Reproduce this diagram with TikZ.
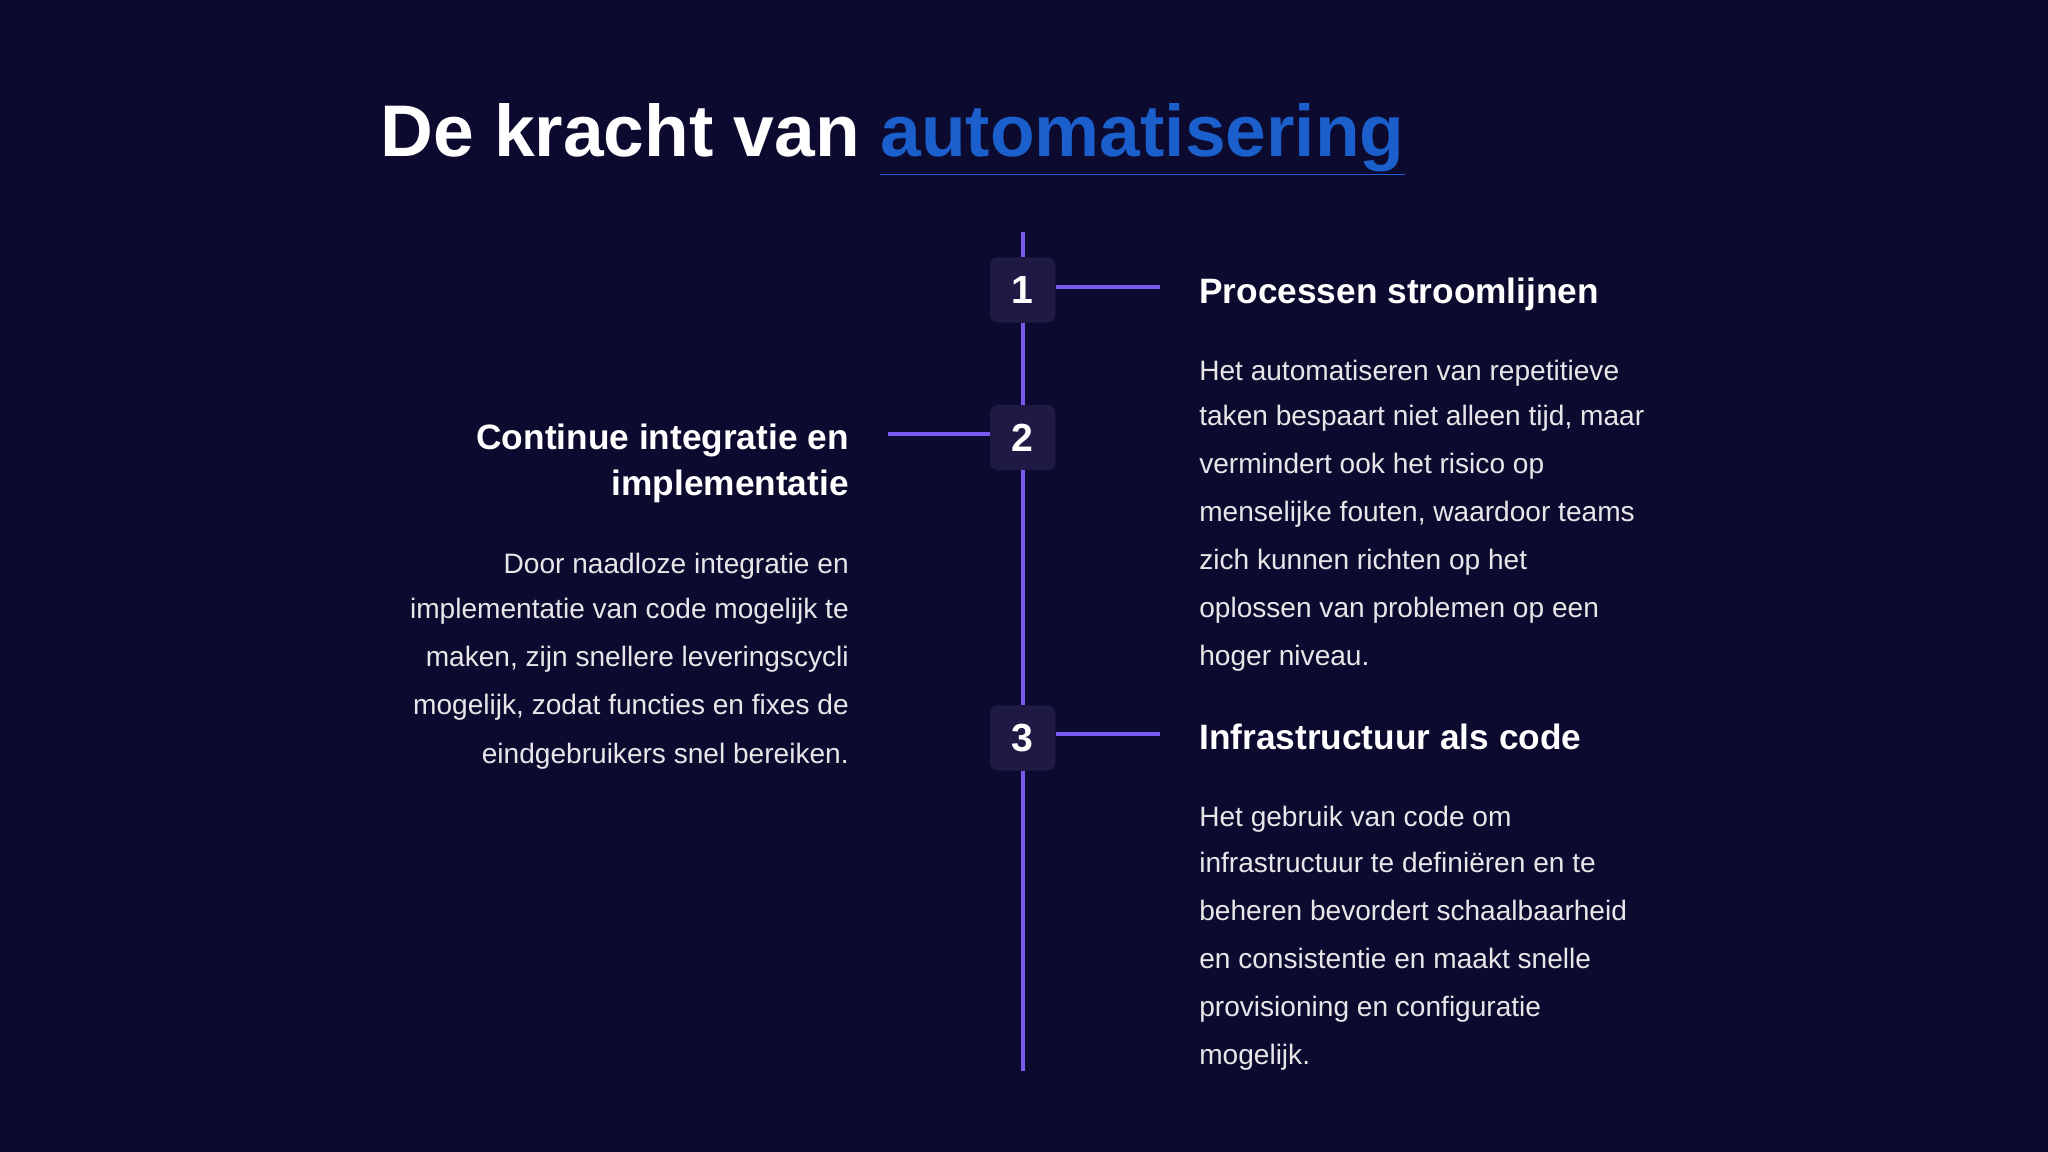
\documentclass[tikz,border=0pt]{standalone}
\usepackage{fontspec}
\setmainfont{Liberation Sans}
\definecolor{bg}{HTML}{0C0A2E}
\definecolor{boxc}{HTML}{1E1A45}
\definecolor{linec}{HTML}{7A5AF0}
\definecolor{bluec}{HTML}{1A5FCC}
\begin{document}
\begin{tikzpicture}[x=1pt,y=-1pt,
  numbox/.style={fill=boxc,rounded corners=6pt,minimum width=50pt,minimum height=50pt,inner sep=0,text=white,font=\bfseries\fontsize{30}{30}\selectfont},
  conn/.style={draw=linec,line width=3pt},
  head/.style={inner sep=0,text=white,font=\bfseries\fontsize{27}{35}\selectfont},
  body/.style={inner sep=0,text=white!90!bg,font=\fontsize{21.5}{36.8}\selectfont}]
\fill[bg] (0,0) rectangle (1568,882);
\useasboundingbox (0,0) rectangle (1568,882);
\node[anchor=base west,inner sep=0,text=white,font=\bfseries\fontsize{56}{60}\selectfont] (title) at (291,120) {De kracht van \textcolor{bluec}{\underline{automatisering}}};
\coordinate (top) at (783,178);
\coordinate (bot) at (783,820);
\node[numbox] (b1) at (783,222) {1};
\node[numbox] (b2) at (783,335) {2};
\node[numbox] (b3) at (783,565) {3};
\draw[conn] (top) -- (b1.north);
\draw[conn] (b1.south) -- (b2.north);
\draw[conn] (b2.south) -- (b3.north);
\draw[conn] (b3.south) -- (bot);
\coordinate (e1) at (888,220);
\coordinate (e2) at (680,332);
\coordinate (e3) at (888,562);
\draw[conn] (b1.east |- e1) -- (e1);
\draw[conn] (b2.west |- e2) -- (e2);
\draw[conn] (b3.east |- e3) -- (e3);
\node[head,anchor=base west] (h1) at (918,232) {Processen stroomlijnen};
\node[body,anchor=base west,align=left] (t1) at (918,291) {Het automatiseren van repetitieve};
\node[body,anchor=north west,align=left] (t1b) at (918,310) {taken bespaart niet alleen tijd, maar\\vermindert ook het risico op\\menselijke fouten, waardoor teams\\zich kunnen richten op het\\oplossen van problemen op een\\hoger niveau.};
\node[head,anchor=base east,align=right] (h2) at (650,344) {Continue integratie en};
\node[head,anchor=base east] (h2b) at (650,379) {implementatie};
\node[body,anchor=base east] (t2) at (650,439) {Door naadloze integratie en};
\node[body,anchor=north east,align=right] (t2b) at (650,458) {implementatie van code mogelijk te\\maken, zijn snellere leveringscycli\\mogelijk, zodat functies en fixes de\\eindgebruikers snel bereiken.};
\node[head,anchor=base west] (h3) at (918,574) {Infrastructuur als code};
\node[body,anchor=base west] (t3) at (918,633) {Het gebruik van code om};
\node[body,anchor=north west,align=left] (t3b) at (918,652) {infrastructuur te definiëren en te\\beheren bevordert schaalbaarheid\\en consistentie en maakt snelle\\provisioning en configuratie\\mogelijk.};
\end{tikzpicture}
\end{document}
